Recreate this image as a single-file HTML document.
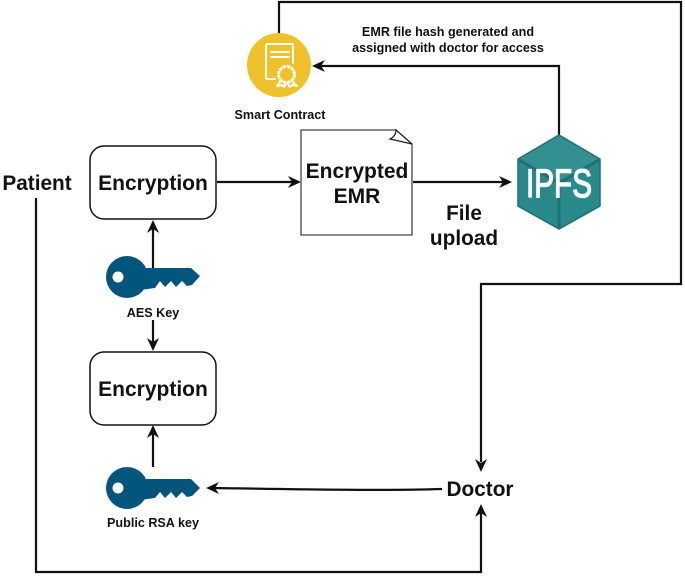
<!DOCTYPE html>
<html>
<head>
<meta charset="utf-8">
<style>
html,body{margin:0;padding:0;background:#fff;}
svg{display:block;}
text{font-family:"Liberation Sans",sans-serif;font-weight:bold;fill:#111;}
</style>
</head>
<body>
<svg width="685" height="576" viewBox="0 0 685 576" xmlns="http://www.w3.org/2000/svg">
<g fill="none" stroke="#111" stroke-width="2.2">
  <polyline points="279,36 279,2 681,2 681,284 481,284 481,462"/>
  <polyline points="36,198 36,572 481,572 481,512"/>
  <polyline points="559,135 559,66 318,66"/>
  <line x1="217" y1="182" x2="294" y2="182"/>
  <line x1="413" y1="182" x2="504" y2="182"/>
  <line x1="153" y1="268" x2="153" y2="226"/>
  <line x1="153" y1="320" x2="153" y2="345"/>
  <line x1="153" y1="467" x2="153" y2="432"/>
  <path d="M442,489 C380,491 280,489 213,488"/>
</g>
<g fill="#111">
  <path d="M312,66 L325,60 L321,66 L325,72 Z"/>
  <path d="M301,182 L288,176 L292,182 L288,188 Z"/>
  <path d="M512,182 L499,176 L503,182 L499,188 Z"/>
  <path d="M153,220 L147,233 L153,229 L159,233 Z"/>
  <path d="M153,351 L147,338 L153,342 L159,338 Z"/>
  <path d="M153,425 L147,438 L153,434 L159,438 Z"/>
  <path d="M206,488 L219,482 L215,488 L219,494 Z"/>
  <path d="M481,472 L475,459 L481,463 L487,459 Z"/>
  <path d="M481,504 L475,517 L481,513 L487,517 Z"/>
</g>

<!-- Smart contract icon -->
<circle cx="279" cy="65" r="32" fill="#efc12b"/>
<g fill="none" stroke="#fff" stroke-width="2" stroke-linecap="round" stroke-linejoin="round">
  <path d="M275,79 L268,79 Q266,79 266,77 L266,46 Q266,44 268,44 L291,44 Q293,44 293,46 L293,63"/>
  <line x1="271" y1="52" x2="289" y2="52"/>
  <line x1="271" y1="57" x2="289" y2="57"/>
  <circle cx="286.500" cy="74.500" r="8" stroke-width="3" stroke-dasharray="3.400 0.800" stroke-linecap="butt"/>
  <path d="M280,82 L277,86 L282,85 L284,87 L286,84"/>
  <path d="M293,82 L297,86 L292,85 L290,87 L288,84"/>
</g>
<text x="280" y="119" font-size="12.600" text-anchor="middle">Smart Contract</text>
<text x="448" y="36" font-size="12.600" text-anchor="middle">EMR file hash generated and</text>
<text x="448" y="52" font-size="12.600" text-anchor="middle">assigned with doctor for access</text>

<text x="37" y="190" font-size="20.800" text-anchor="middle">Patient</text>

<rect x="90" y="146" width="126" height="73" rx="14" fill="#fff" stroke="#111" stroke-width="1.500"/>
<text x="153" y="190" font-size="21" text-anchor="middle">Encryption</text>
<rect x="90" y="352" width="126" height="73" rx="14" fill="#fff" stroke="#111" stroke-width="1.500"/>
<text x="153" y="396" font-size="21" text-anchor="middle">Encryption</text>

<!-- Document -->
<path d="M301,130 L396,130 L412,144 L412,235 L301,235 Z" fill="#fff" stroke="#444" stroke-width="1.300"/>
<path d="M396,130 L412,144 L390,139 Q396,136 396,130 Z" fill="#fff" stroke="#222" stroke-width="1.200"/>
<text x="357" y="178" font-size="21" text-anchor="middle">Encrypted</text>
<text x="357" y="203" font-size="21" text-anchor="middle">EMR</text>

<text x="464" y="220" font-size="20.800" text-anchor="middle">File</text>
<text x="464" y="245" font-size="20.800" text-anchor="middle">upload</text>

<!-- IPFS cube -->
<path d="M559,135 L600,159 L600,206 L559,229 L518,206 L518,159 Z" fill="#2a8a8b"/>
<path d="M559,135 L600,159 L559,182 L518,159 Z" fill="#338f90"/>
<g fill="none" stroke="#1f7072" stroke-width="3">
  <path d="M559,135 L600,159 L600,206 L559,229 L518,206 L518,159 Z" stroke-width="1.500"/>
  <path d="M519,160 L559,183 L599,160"/>
  <line x1="559" y1="183" x2="559" y2="228"/>
</g>
<text x="559" y="197" font-size="40" text-anchor="middle" textLength="66" lengthAdjust="spacingAndGlyphs" style="fill:#fff;font-weight:normal;stroke:#fff;stroke-width:1.300">IPFS</text>

<!-- AES key -->
<path fill="#03557b" d="M140,268 L191,268 L200,276 L192,285 L187,286 L182,281 L176,287 L171,281 L165,287 L160,281 L155,288 L140,290 Z"/>
<circle cx="127" cy="277" r="21" fill="#03557b"/>
<circle cx="118" cy="277" r="5.500" fill="#fff"/>
<text x="153" y="317" font-size="12.600" text-anchor="middle">AES Key</text>

<!-- RSA key -->
<path fill="#03557b" d="M140,479 L191,479 L200,488 L192,496 L187,497 L182,492 L176,498 L171,492 L165,498 L160,492 L155,498 L140,500 Z"/>
<circle cx="127" cy="488" r="21" fill="#03557b"/>
<circle cx="118" cy="488" r="5.500" fill="#fff"/>
<text x="153" y="527" font-size="12.600" text-anchor="middle">Public RSA key</text>

<text x="480" y="496" font-size="20.800" text-anchor="middle">Doctor</text>
</svg>
</body>
</html>
